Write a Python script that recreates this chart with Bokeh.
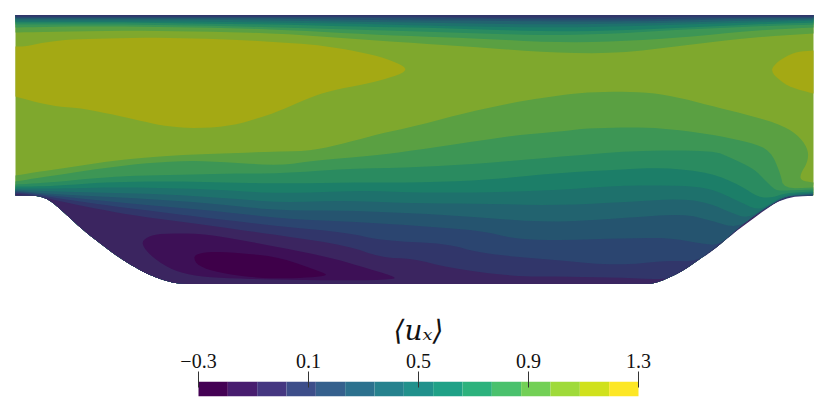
from bokeh.plotting import figure
from bokeh.layouts import column
from bokeh.models import Range1d, LinearAxis, FixedTicker
from bokeh.embed import file_html
from bokeh.resources import INLINE
import numpy as np

# ---- colour levels
BAR_COLORS = ["#440154","#481d6f","#453781","#3d4e8a","#35608d","#2c718e","#26828e","#21918c",
              "#1fa187","#2db27d","#4ac16d","#73d056","#9fda3a","#d0e11c","#fde725"]
FIELD_COLORS = ["#3e0049","#3d1056","#3b2560","#31366a","#2b4570","#25546f","#22636f","#1e716c",
                "#1c7e68","#2a8b60","#3d9655","#5aa042","#7fa82d","#a4a914"]
VMIN, VMAX = -0.3, 1.3
TICKS = [-0.3, 0.1, 0.5, 0.9, 1.3]
TICK_LABELS = {-0.3: "\u22120.3", 0.1: "0.1", 0.5: "0.5", 0.9: "0.9", 1.3: "1.3"}
BAR_TITLE = "\u27e8u\u2093\u27e9"

# ---- channel outline
WALL_X = [15,33,40,50,67,83,100,117,133,150,167,180,200,400,645,655,667,683,700,717,733,750,767,783,795,813]
WALL_Y = [195,195,196,200,215,230,243,256,266,275,281,283.5,283.5,283.5,283.5,282.5,278,270,258,246,232,218,207,197,195,195]
TOP_Y = 14.5

# ---- bands along the upper wall
TOP_X = [15,60,133,200,280,350,420,480,550,617,683,750,813]
T11 = [32,31,30,31,33,38,43,47,52,53,45,37,33]
T10 = [27,26,26,27,29,33,36,38,42,41,37,30,27]
T9  = [24,24,24,25,27,29,31,33,35,33,29,26,24]
T8  = [22,22,22,23,24,26,27,29,31,30,27,24,22]
T7  = [21,21,21,21,22,23,25,26,27,26,24,22,20]
T6  = [19,19,19,19,20,21,22,23,24,23,22,20,19]
T5  = [18,18,18,18,18,19,20,20,21,21,20,18,18]
T4  = [17,17,17,17,17,17,18,18,19,19,18,17,17]
T3  = [16,16,16,16,16,16,16,17,17,17,16,16,16]

# ---- iso-bands over the lower wall
L11_X = [15,33,67,100,133,187,280,313,347,380,413,447,480,513,550,583,617,650,683,717,750,783,800,808,807,800,800,813]
L11_Y = [175,172,167,162,158,154,151,150,142,133,126,117,109,102,96,92,91,92,98,107,115,125,137,150,162,173,180,182]
L10_X = [15,33,60,100,140,187,230,280,313,373,413,480,513,560,583,617,650,683,717,750,770,780,783,813]
L10_Y = [181,178,174,168,163,160,162,165,160,155,150,140,135,131,128,127,127,130,135,142,150,173,188,187]
L9_X = [15,33,60,100,140,187,230,280,347,413,480,550,633,713,730,753,765,775,785,800,813]
L9_Y = [184,183,181,177,175,174,173,173,168,167,163,157,150,150,157,168,180,190,190,189.5,189]
L8_X = [15,33,60,100,140,187,230,280,347,413,480,550,617,663,710,740,758,772,785,813]
L8_Y = [186,186,185,182,181,181,182,183,182,182,180,173,169,167,172,185,197,197,192.5,191]
L7_X = [15,33,60,100,140,187,230,280,360,413,480,550,617,683,710,737,757,772,785,813]
L7_Y = [188,188,188,187,187,188,190,193,190,192,192,190,185,185,188,200,210,202,194,192]
L6_X = [15,33,60,100,140,187,230,280,347,420,480,550,617,683,710,730,747,765,785,813]
L6_Y = [189,190,191,192,193,195,198,202,200,203,203,205,202,198,203,212,218,207,195.5,193]
L5_X = [15,33,60,100,140,187,230,280,347,420,480,550,617,683,710,737,760,783,813]
L5_Y = [190,192,194,196,198,201,205,210,210,213,217,222,218,213,220,228,211,196,193.5]
L4_X = [15,33,60,100,140,187,230,280,347,413,480,513,550,617,667,700,720,750,783,813]
L4_Y = [191,193,196,200,204,208,212,218,221,225,230,238,240,238,237,243,245,217,196.5,194]
L3_X = [15,33,60,100,140,187,230,280,347,380,447,480,560,617,667,697,717,750,783,813]
L3_Y = [192,194,198,204,209,215,220,226,232,240,243,253,260,265,260,261,246.5,217.5,197,195]
L2_X = [15,33,60,100,140,187,230,280,347,380,413,447,513,560,617,660,670,700,733,767,783]
L2_Y = [193.5,194.5,201,209,216,222,228,235,245,257,258,267,276,276,277,279,277,258.5,232.5,207.5,197.5]
L1_X = [140,147,160,200,233,280,330,357,395,393,347,280,233,197,173,153]
L1_Y = [243,236,233,233,238,247,257,265,276,279,280,279,278,276,270,258]
L0_X = [193,197,213,247,280,323,327,310,280,253,217,197]
L0_Y = [257,253,251,253,257,272,275,277,278,277,272,265]

# ---- high-speed cores
B13A_X = [15,25,43,67,100,150,200,250,280,313,347,380,403,406,387,363,330,307,280,260,233,197,167,143,117,83,57,37,15]
B13A_Y = [46,46,42,39,38,37,38,40,42,44,49,56,65,71,78,84,90,98,110,117,125,128,126,121,115,108,106,102,96]
B13B_X = [813,797,783,773,771,777,790,813]
B13B_Y = [50,51,57,65,71,78,87,93]

LEFT_PAD = 6  # keeps the centre of the frames on the centre of the colour bar

def rounded(xs, ys, closed=False, passes=2):
    """Corner-cutting so that the outlines read as smooth iso-lines."""
    a = np.column_stack([xs, ys]).astype(float)
    for _ in range(passes):
        if closed:
            n = np.roll(a, -1, axis=0)
            a = np.column_stack([0.75 * a + 0.25 * n, 0.25 * a + 0.75 * n]).reshape(-1, 2)
        else:
            n = a[1:]
            m = a[:-1]
            mid = np.column_stack([0.75 * m + 0.25 * n, 0.25 * m + 0.75 * n]).reshape(-1, 2)
            a = np.vstack([a[:1], mid, a[-1:]])
    return a[:, 0], a[:, 1]

# ---- flow field
p = figure(width=830, height=300, x_range=Range1d(LEFT_PAD, 830), y_range=Range1d(300, 0),
           x_axis_location=None, y_axis_location=None, toolbar_location=None,
           output_backend="svg", outline_line_color=None, min_border=0, min_border_left=LEFT_PAD)
p.grid.visible = False

wx, wy = rounded(WALL_X, WALL_Y)

def draw(xs, ys, level):
    p.patch(list(xs), list(ys), fill_color=FIELD_COLORS[level], line_color=None)

def over_wall(cx, cy, level):
    sx, sy = rounded(cx, cy)
    m = wx < sx[-1]
    draw(list(sx) + list(wx[m][::-1]), list(sy) + list(wy[m][::-1]), level)

draw([wx[0], wx[-1]] + list(wx[::-1]), [TOP_Y, TOP_Y] + list(wy[::-1]), 12)
draw(*rounded(B13A_X, B13A_Y), 13)
draw(*rounded(B13B_X, B13B_Y), 13)
for level, cx, cy in [(11, L11_X, L11_Y), (10, L10_X, L10_Y), (9, L9_X, L9_Y), (8, L8_X, L8_Y),
                      (7, L7_X, L7_Y), (6, L6_X, L6_Y), (5, L5_X, L5_Y), (4, L4_X, L4_Y),
                      (3, L3_X, L3_Y), (2, L2_X, L2_Y)]:
    over_wall(cx, cy, level)
draw(*rounded(L1_X, L1_Y, closed=True), 1)
draw(*rounded(L0_X, L0_Y, closed=True), 0)
for level, ty in [(11, T11), (10, T10), (9, T9), (8, T8), (7, T7), (6, T6), (5, T5), (4, T4), (3, T3)]:
    sx, sy = rounded(TOP_X, ty)
    p.varea(sx, [TOP_Y] * len(sx), sy, fill_color=FIELD_COLORS[level])

# ---- colour bar: the value range spans the bar only, the frame is nearly the full page width
per_px = (VMAX - VMIN) / 440
b = figure(width=830, height=98,
           x_range=Range1d(VMIN - (198 - LEFT_PAD) * per_px, VMAX + 192 * per_px), y_range=Range1d(0, 1),
           x_axis_location=None, y_axis_location=None, toolbar_location=None,
           output_backend="svg", outline_line_color=None,
           min_border_left=LEFT_PAD, min_border_right=0, min_border_top=81, min_border_bottom=2, frame_height=15)
b.grid.visible = False
edges = np.linspace(VMIN, VMAX, len(BAR_COLORS) + 1)
b.quad(left=edges[:-1], right=edges[1:], bottom=0, top=1, fill_color=BAR_COLORS, line_color=None)
ax = LinearAxis(ticker=FixedTicker(ticks=TICKS), major_label_overrides=TICK_LABELS,
                axis_line_color=None, major_tick_in=6, major_tick_out=10,
                major_tick_line_color="#333333", major_tick_line_width=1, minor_tick_line_color=None,
                major_label_text_font="Liberation Serif", major_label_text_font_size="20px",
                major_label_text_color="#111111", major_label_standoff=4,
                axis_label=BAR_TITLE, axis_label_text_font="DejaVu Serif",
                axis_label_text_font_size="28px", axis_label_text_font_style="italic",
                axis_label_text_color="#111111", axis_label_standoff=4)
b.add_layout(ax, "above")

page = column(p, b, spacing=0)
open("out.html", "w").write(file_html(page, INLINE))
